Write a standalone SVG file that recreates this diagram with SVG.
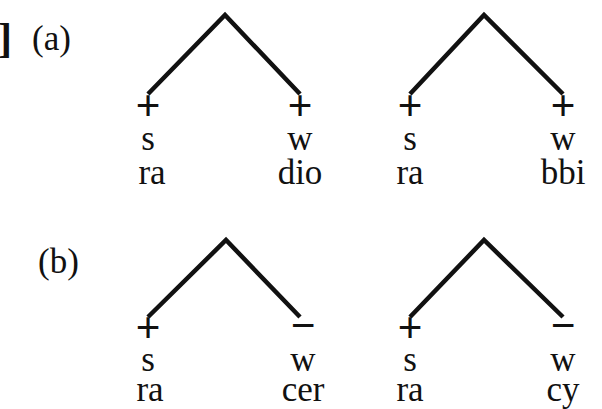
<svg xmlns="http://www.w3.org/2000/svg" width="602" height="409" viewBox="0 0 602 409">
<style>
text{font-family:"Liberation Serif","DejaVu Serif",serif;font-size:35px;fill:#111;text-anchor:middle}
.l{text-anchor:start}
.p{font-size:44px;font-weight:bold}
line{stroke:#111;stroke-width:4;stroke-linecap:round}
</style>
<rect width="602" height="409" fill="#fff"/>
<text class="l" x="-2" y="52" style="font-weight:bold;font-size:42px">]</text>
<text class="l" x="32" y="50">(a)</text>
<text class="l" x="38" y="273">(b)</text>
<g id="connectors">
<polyline points="148,94 225,15 300,94" fill="none" stroke="#111" stroke-width="4.5"/>
<polyline points="410,94 484,15 563,94" fill="none" stroke="#111" stroke-width="4.5"/>
<polyline points="148,317 226,240 300,317" fill="none" stroke="#111" stroke-width="4.5"/>
<polyline points="410,317 484,240 563,317" fill="none" stroke="#111" stroke-width="4.5"/>
</g>
<g id="t1">
<text class="p" x="148" y="120">+</text><text x="148" y="150">s</text><text x="152" y="184">ra</text>
<text class="p" x="300" y="120">+</text><text x="300" y="150">w</text><text x="300" y="184">dio</text>
</g>
<g id="t2">
<text class="p" x="410" y="120">+</text><text x="410" y="150">s</text><text x="410" y="184">ra</text>
<text class="p" x="563" y="120">+</text><text x="563" y="150">w</text><text x="563" y="184">bbi</text>
</g>
<g id="t3">
<text class="p" x="148" y="342">+</text><text x="148" y="371">s</text><text x="150" y="401">ra</text>
<text class="p" x="303" y="340">−</text><text x="303" y="371">w</text><text x="303" y="401">cer</text>
</g>
<g id="t4">
<text class="p" x="410" y="342">+</text><text x="410" y="371">s</text><text x="410" y="401">ra</text>
<text class="p" x="563" y="340">−</text><text x="563" y="371">w</text><text x="563" y="401">cy</text>
</g>
</svg>
